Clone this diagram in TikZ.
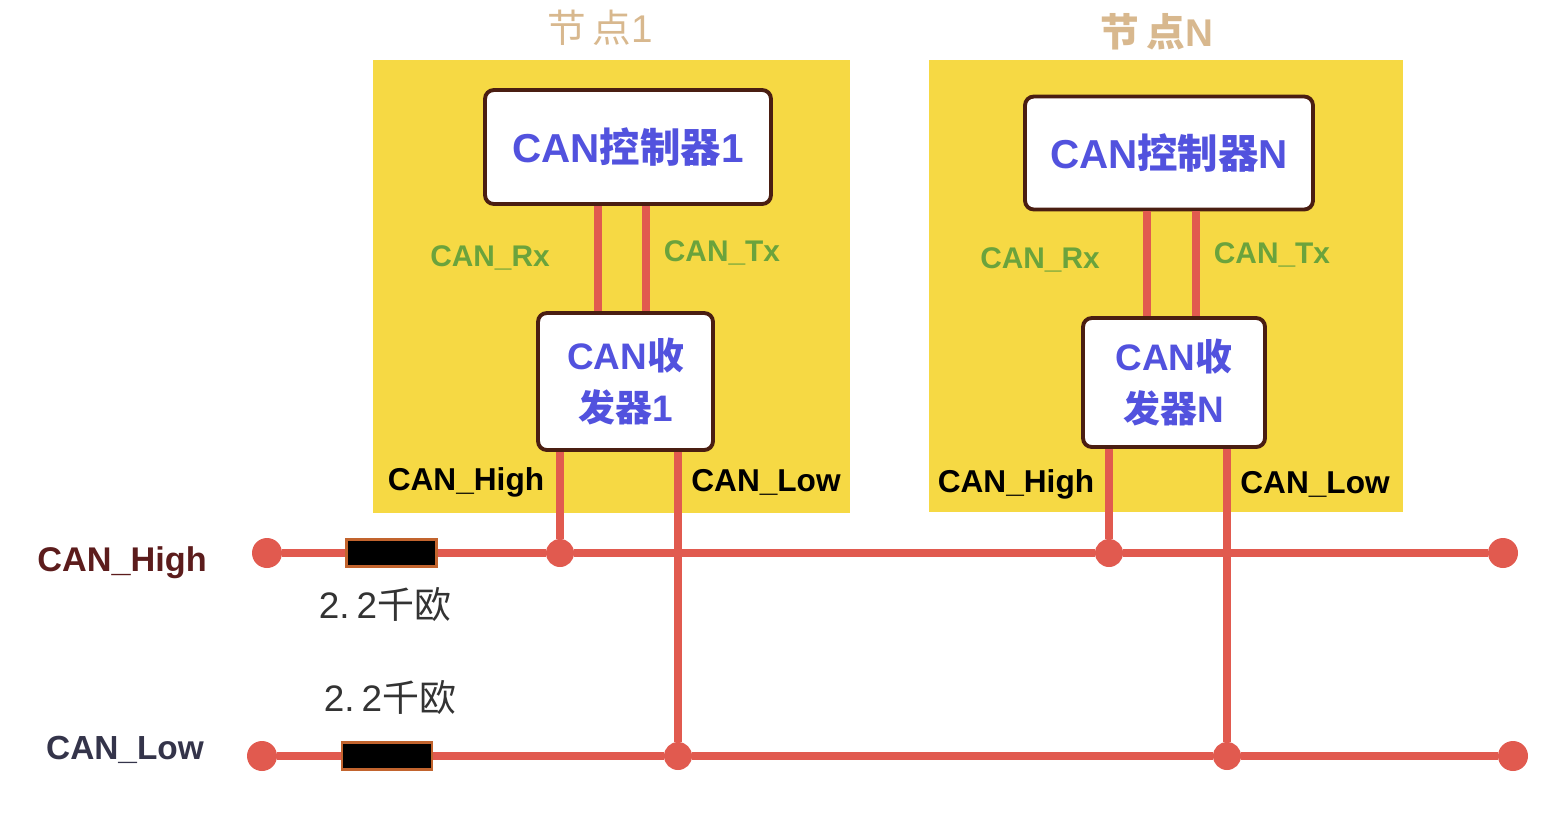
\documentclass[tikz,border=0pt]{standalone}
\usepackage{fontspec}
\setmainfont{Liberation Sans}
\newfontfamily\cjk{Noto Sans CJK SC}
\definecolor{nodeyellow}{HTML}{F6D944}
\definecolor{busred}{HTML}{E15A4F}
\definecolor{boxline}{HTML}{4A1E12}
\definecolor{chipblue}{HTML}{5252DE}
\definecolor{pingreen}{HTML}{6BA33C}
\definecolor{titletan}{HTML}{D8B88E}
\definecolor{resedge}{HTML}{C2642E}
\definecolor{highred}{HTML}{5C1C1C}
\definecolor{lowgrey}{HTML}{34344A}
\begin{document}
\begin{tikzpicture}[x=0.02cm,y=-0.02cm,
  chip/.style={draw=boxline,line width=2.2pt,fill=white,rounded corners=5pt,text=chipblue,align=center,inner sep=0pt},
  wire/.style={busred,line width=4.6pt},
  dot/.style={circle,fill=busred,inner sep=0pt,minimum size=0.6cm},
  res/.style={draw=resedge,line width=1.2pt,fill=black,inner sep=0pt,minimum width=1.8cm,minimum height=0.54cm},
  pin/.style={text=pingreen,font=\bfseries\fontsize{17}{20}\selectfont},
  leg/.style={font=\bfseries\fontsize{18}{21}\selectfont}]

\useasboundingbox (0,0) rectangle (1548,825);

\fill[nodeyellow] (373,60) rectangle (850,513);
\fill[nodeyellow] (929,60) rectangle (1403,512);
\node[text=titletan,font=\fontsize{22}{24}\selectfont] (title1) at (600,28) {{\cjk 节\hspace{4pt}点}1};
\node[text=titletan,font=\bfseries\fontsize{22}{24}\selectfont] (titleN) at (1157,32) {{\cjk 节\hspace{4pt}点}N};

\node[chip,minimum width=5.72cm,minimum height=2.28cm,font=\bfseries\fontsize{23}{26}\selectfont] (ctrl1) at (628,147) {CAN{\cjk 控制器}1};
\node[chip,minimum width=5.76cm,minimum height=2.26cm,font=\bfseries\fontsize{23}{26}\selectfont] (ctrlN) at (1169,153) {CAN{\cjk 控制器}N};
\node[chip,minimum width=3.5cm,minimum height=2.74cm,font=\bfseries\fontsize{21}{30}\selectfont] (xcvr1) at (625.5,381.5) {CAN{\cjk 收}\\{\cjk 发器}1};
\node[chip,minimum width=3.64cm,minimum height=2.58cm,font=\bfseries\fontsize{21}{30}\selectfont] (xcvrN) at (1174,382.5) {CAN{\cjk 收}\\{\cjk 发器}N};

\draw[wire] (ctrl1.south -| 598,0) -- (xcvr1.north -| 598,0);
\draw[wire] (ctrl1.south -| 646,0) -- (xcvr1.north -| 646,0);
\draw[wire] (ctrlN.south -| 1147,0) -- (xcvrN.north -| 1147,0);
\draw[wire] (ctrlN.south -| 1196,0) -- (xcvrN.north -| 1196,0);

\node[pin] (rx1) at (490,258) {CAN\_Rx};
\node[pin] (tx1) at (722,253) {CAN\_Tx};
\node[pin] (rxN) at (1040,260) {CAN\_Rx};
\node[pin] (txN) at (1272,255) {CAN\_Tx};

\node[leg] (hi1) at (466,482) {CAN\_High};
\node[leg] (lo1) at (766,482) {CAN\_Low};
\node[leg] (hiN) at (1016,484) {CAN\_High};
\node[leg] (loN) at (1315,484) {CAN\_Low};

\node[dot] (h0) at (267,553) {};
\node[dot,minimum size=0.56cm] (h1) at (560,553) {};
\node[dot,minimum size=0.56cm] (hN) at (1109,553) {};
\node[dot] (h9) at (1503,553) {};
\node[dot] (l0) at (262,756) {};
\node[dot,minimum size=0.56cm] (l1) at (678,756) {};
\node[dot,minimum size=0.56cm] (lN) at (1227,756) {};
\node[dot] (l9) at (1513,756) {};
\node[res] (rhi) at (391.5,553) {};
\node[res] (rlo) at (387,756) {};

\draw[wire] (h0) -- (rhi) -- (h1) -- (hN) -- (h9);
\draw[wire] (l0) -- (rlo) -- (l1) -- (lN) -- (l9);
\draw[wire] (xcvr1.south -| h1) -- (h1);
\draw[wire] (xcvr1.south -| l1) -- (l1);
\draw[wire] (xcvrN.south -| hN) -- (hN);
\draw[wire] (xcvrN.south -| lN) -- (lN);

\node[text=highred,font=\bfseries\fontsize{19.5}{22}\selectfont] (bushi) at (122,563) {CAN\_High};
\node[text=lowgrey,font=\bfseries\fontsize{19}{22}\selectfont] (buslo) at (125,750) {CAN\_Low};
\node[text=black!80,font=\fontsize{21}{22}\selectfont] (rhival) at (385,605) {2.\hspace{4pt}2{\cjk 千欧}};
\node[text=black!80,font=\fontsize{21}{22}\selectfont] (rloval) at (390,698) {2.\hspace{4pt}2{\cjk 千欧}};

\end{tikzpicture}
\end{document}
